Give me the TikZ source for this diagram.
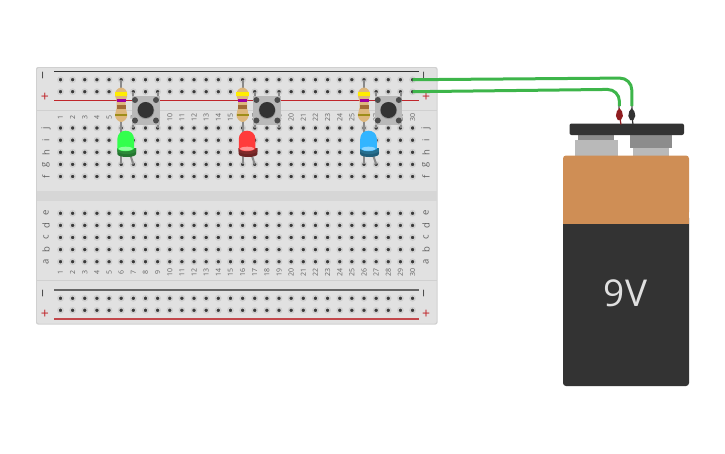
\documentclass[tikz,border=0pt]{standalone}
\usepackage{fontspec}
\setmainfont{Open Sans}
\usetikzlibrary{calc,positioning}
\definecolor{boardgray}{HTML}{E1E1E1}
\definecolor{boardedge}{HTML}{D0D0D0}
\definecolor{boardband}{HTML}{D6D6D6}
\definecolor{holedark}{HTML}{3A3A3A}
\definecolor{holeedge}{HTML}{CFCFCF}
\definecolor{railred}{HTML}{C0262B}
\definecolor{railfade}{HTML}{C2484C}
\definecolor{legray}{HTML}{8A8A8A}
\definecolor{wiregreen}{HTML}{3DB54A}
\definecolor{batorange}{HTML}{CF8E55}
\definecolor{batdark}{HTML}{333333}
\definecolor{capgray}{HTML}{8C8C8C}
\definecolor{caplight}{HTML}{B9B9B9}
\definecolor{resbody}{HTML}{DDB77C}
\tikzstyle{hole}=[circle,draw=holeedge,line width=1.5pt,fill=holedark,inner sep=0,minimum size=5.2pt]
\tikzstyle{lbl}=[font=\fontsize{7}{7}\selectfont,text=black!62,rotate=90,inner sep=0]
\tikzstyle{sign}=[font=\fontsize{14}{14}\selectfont,inner sep=0]

\begin{document}
\begin{tikzpicture}[
    x=1pt,y=-1pt,
    wire/.style={wiregreen,line width=3pt,rounded corners=12pt},
    leadline/.style={legray,line width=2pt},
    redline/.style={railred,line width=1pt},
    blackline/.style={black!80,line width=1pt}
    ]
    \useasboundingbox (0,0) rectangle (725,453);

    % board
    \fill [boardedge,rounded corners=2pt] (36,67) rectangle (437.5,324.5);
    \fill [boardgray,rounded corners=2pt] (37,68) rectangle (436.5,323.5);
    \fill [boardband] (37,191) rectangle (436.5,201);
    \draw [boardedge,line width=.7pt] (37,110) -- (436.5,110);
    \draw [boardedge,line width=.7pt] (37,280.5) -- (436.5,280.5);

    % rail lines
    \draw [blackline] (54,71) -- (419,71);
    \draw [redline] (54,100.5) -- (419,100.5);
    \draw [black!60,line width=1.2pt] (54,290) -- (419,290);
    \draw [railfade,line width=1.2pt] (54,319) -- (419,319);

    % rail signs
    \foreach \sx in {45,426} {
      \node [sign,rotate=90,text=black!75] (minus1\sx) at (\sx,75.5) {−};
      \node [sign,text=railred] (plus1\sx) at (\sx,97) {+};
      \node [sign,rotate=90,text=black!75] (minus2\sx) at (\sx,293) {−};
      \node [sign,text=railred] (plus2\sx) at (\sx,314.5) {+};
    }

    % holes
    \foreach \c in {1,...,30} {
      \pgfmathsetmacro{\hx}{60.5+(\c-1)*12.14}
      \foreach \r/\y in {r1/79.7,r2/91.7,j/128,i/140.2,h/152.3,g/164.4,f/176.5,
                         e/213.3,d/225.4,c/237.5,b/249.6,a/261.7,r3/298.3,r4/310.3} {
        \node [hole] (\r-\c) at (\hx,\y) {};
      }
      \node [lbl] (numu\c) at (\hx,117) {\c};
      \node [lbl] (numl\c) at (\hx,272) {\c};
    }

    % row letters
    \foreach \sx in {46,426} {
      \foreach \r/\y in {j/128,i/140.2,h/152.3,g/164.4,f/176.5,
                         e/213.3,d/225.4,c/237.5,b/249.6,a/261.7} {
        \node [lbl,font=\fontsize{9.5}{9.5}\selectfont] (let\r\sx) at (\sx,\y) {\r};
      }
    }

    % resistor, button and led, three times
    \foreach \dx/\ledtop/\ledlow in {0/33FF4D/2B8A38,121.4/FF3B3B/7F2A2A,242.8/33B5FF/266F8F} {
      \begin{scope}[xshift=\dx pt]
        \definecolor{ledtopc}{HTML}{\ledtop}
        \definecolor{ledlowc}{HTML}{\ledlow}
        % button
        \draw [leadline] (133.4,91.7) -- (133.4,128);
        \draw [leadline] (157.7,91.7) -- (157.7,128);
        \fill [gray!55] (132,96) rectangle (159.5,124.5);
        \fill [black!70] (135,100) circle (3pt);
        \fill [black!70] (156,100) circle (3pt);
        \fill [black!70] (135,120.5) circle (3pt);
        \fill [black!70] (156,120.5) circle (3pt);
        \fill [gray!80] (145.7,110.5) circle (8.6pt);
        \fill [black!80] (145.7,110) circle (8pt);
        % resistor
        \draw [leadline] (121.2,79.7) -- (121.2,128);
        \fill [resbody] (121.2,87.5) .. controls (118,87.5) and (115,91) .. (115,94)
          .. controls (115,98) and (116.7,99) .. (116.7,101) -- (116.7,108)
          .. controls (116.7,110) and (115,112) .. (115,115)
          .. controls (115,119) and (119,122) .. (121.2,122)
          .. controls (123.4,122) and (127.3,119) .. (127.3,115)
          .. controls (127.3,112) and (125.7,110) .. (125.7,108) -- (125.7,101)
          .. controls (125.7,99) and (127.3,98) .. (127.3,94)
          .. controls (127.3,91) and (124.4,87.5) .. (121.2,87.5) -- cycle;
        \fill [yellow!95!orange] (115,92) rectangle (127.3,95.5);
        \fill [violet!75!magenta] (116.7,98.5) rectangle (125.7,102);
        \fill [brown!85!black] (116.7,105) rectangle (125.7,108.5);
        \fill [olive!70!brown] (115.2,114.3) rectangle (127.1,115.7);
        % led legs
        \draw [leadline] (121.2,128) -- (121.2,164.4);
        \draw [leadline] (130,154) -- (133.4,164.4);
        % led
        \fill [ledlowc!85!black] (117.3,148) rectangle (136,154)
          .. controls (136,158) and (117.3,158) .. (117.3,154) -- cycle;
        \fill [ledlowc] (117.3,148) -- (136,148) -- (136,151.5)
          .. controls (132,155) and (121,155) .. (117.3,151.5) -- cycle;
        \fill [ledtopc] (117.4,149) -- (117.4,139)
          .. controls (117.4,134) and (121,130.7) .. (125.7,130.7)
          .. controls (130.4,130.7) and (134,134) .. (134,139) -- (134,149)
          .. controls (130,152) and (121,152) .. (117.4,149) -- cycle;
        \fill [white,opacity=.45] (125.7,148.7) ellipse (7pt and 2pt);
      \end{scope}
    }

    % battery
    \fill [capgray] (578.3,133) rectangle (614.3,141);
    \fill [caplight] (575,140) rectangle (617.5,157);
    \fill [capgray] (629.5,133) rectangle (672,148);
    \fill [caplight] (633,148) rectangle (669,157);
    \fill [batdark,rounded corners=2pt] (569.5,123.5) rectangle (684,135);
    \fill [batdark,rounded corners=3pt] (563,215) rectangle (689,386);
    \fill [batorange,rounded corners=3pt] (563,155.5) rectangle (689,215);
    \fill [batorange] (563,165) rectangle (689,224);
    \node [text=black!12,font=\fontsize{37}{37}\selectfont,inner sep=0] (volt) at (625.5,293) {9V};

    % clips
    \coordinate (clipr) at (619.4,106);
    \coordinate (clipb) at (631.8,106);
    \draw [railred!75!black,line width=1.2pt] (619.4,115) -- (621,124.5);
    \draw [batdark,line width=1.2pt] (631.8,115) -- (633,124.5);
    \draw [leadline] (clipr) -- ++(0,3);
    \draw [leadline] (clipb) -- ++(0,3);
    \fill [railred!75!black] (619.4,108) -- (622,111.5) -- (622.9,116) -- (621,120)
      -- (617.8,120) -- (615.9,116) -- (616.8,111.5) -- cycle;
    \fill [batdark] (631.8,108) -- (634.4,111.5) -- (635.3,116) -- (633.4,120)
      -- (630.2,120) -- (628.3,116) -- (629.2,111.5) -- cycle;

    % wires
    \coordinate (bendb) at (631.8,78);
    \coordinate (bendr) at (619.4,89.3);
    \draw [wire] (r1-30.center) -- (bendb) -- (clipb);
    \draw [wire] (r2-30.center) -- (bendr) -- (clipr);
  \end{tikzpicture}
\end{document}
